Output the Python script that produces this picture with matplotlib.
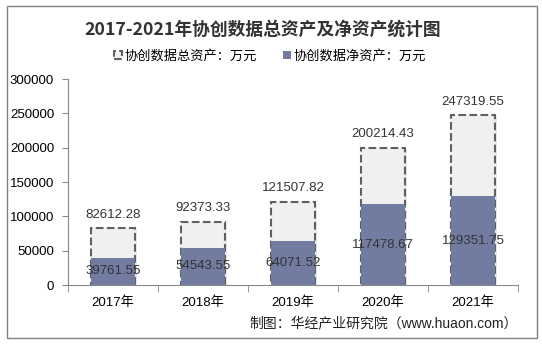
import matplotlib.pyplot as plt
import numpy as np
from matplotlib.patches import Rectangle

plt.rcParams['font.family'] = ['Liberation Sans', 'Noto Sans CJK SC']

years = ['2017年', '2018年', '2019年', '2020年', '2021年']
total_assets = [82612.28, 92373.33, 121507.82, 200214.43, 247319.55]
net_assets = [39761.55, 54543.55, 64071.52, 117478.67, 129351.75]

fig = plt.figure(figsize=(5.42, 3.44), dpi=100)
ax = fig.add_axes([0.1255, 0.1715, 0.830, 0.5985])

x = np.arange(len(years))
w = 0.49

# 淡淡的阴影
ax.bar(x + 0.025, total_assets, w, bottom=-1500, color='#c8c8c8', alpha=0.4, zorder=1)
ax.bar(x, total_assets, w, color='#f0f0f0', edgecolor='#606060', linestyle='--',
       linewidth=1.5, zorder=2, label='协创数据总资产：万元')
ax.bar(x, net_assets, w, color='#717ca0', zorder=3, label='协创数据净资产：万元')

for i in range(len(years)):
    ax.text(x[i], total_assets[i] + 11000, f'{total_assets[i]:.2f}', ha='center',
            va='bottom', fontsize=9.5, color='#333333', zorder=5)
    ax.text(x[i], net_assets[i] / 2, f'{net_assets[i]:.2f}', ha='center',
            va='center', fontsize=9.5, color='#333333', zorder=5)

ax.set_xlim(-0.5, len(years) - 0.5)
ax.set_ylim(0, 300000)
ax.set_yticks(np.arange(0, 300001, 50000))
ax.set_xticks(x)
ax.set_xticklabels(years, fontsize=9.5)
ax.tick_params(axis='y', labelsize=9.5, length=4, color='#888888', pad=6)
ax.tick_params(axis='x', length=0, pad=8)
ax.set_xticks(np.arange(-0.5, len(years), 1), minor=True)
ax.tick_params(axis='x', which='minor', length=5, color='#888888')
for s in ['top', 'right']:
    ax.spines[s].set_visible(False)
for s in ['left', 'bottom']:
    ax.spines[s].set_color('#888888')

fig.text(0.485, 0.915, '2017-2021年协创数据总资产及净资产统计图', ha='center', va='center',
         fontsize=12.8, fontweight='bold', color='#333333',
         family=['Noto Sans CJK SC', 'DejaVu Sans'])
ax.legend(loc='center', bbox_to_anchor=(0.449, 1.11), ncol=2, frameon=False, fontsize=9.5,
          handlelength=0.6, handleheight=0.6, columnspacing=2.0, handletextpad=0.2)
fig.text(0.955, 0.06, '制图：华经产业研究院（www.huaon.com）', ha='right', va='center',
         fontsize=10, color='#222222')

fig.patches.append(Rectangle((7 / 542, 6 / 344), 530 / 542, 332 / 344,
                             transform=fig.transFigure, fill=False,
                             edgecolor='#808080', linewidth=1))

fig.savefig('out.png', dpi=100)
